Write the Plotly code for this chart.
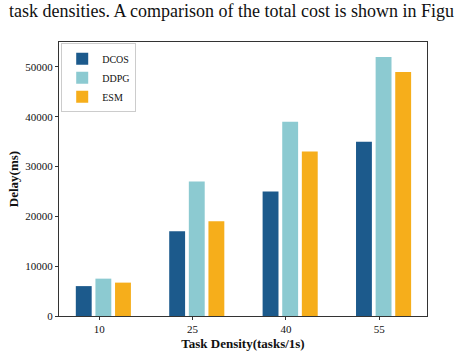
import plotly.graph_objects as go

categories = ["10", "25", "40", "55"]
dcos = [6000, 17000, 25000, 35000]
ddpg = [7500, 27000, 39000, 52000]
esm = [6700, 19000, 33000, 49000]
y_ticks = [0, 10000, 20000, 30000, 40000, 50000]

positions = list(range(len(categories)))
series = [
    ("DCOS", dcos, "#1c5a8c", -0.25),
    ("DDPG", ddpg, "#8ccad1", -0.04),
    ("ESM", esm, "#f6ae1b", 0.17),
]

fig = go.Figure()
for name, vals, color, off in series:
    fig.add_trace(go.Bar(
        x=positions, y=vals, name=name, marker_color=color,
        marker_line_width=0, offset=off, width=0.17,
    ))

serif = "Liberation Serif"
fig.update_layout(
    width=474, height=355,
    margin=dict(l=59, r=47, t=42, b=39),
    paper_bgcolor="white", plot_bgcolor="white",
    barmode="overlay",
    font=dict(family=serif, color="#111111", size=11),
    showlegend=True,
    legend=dict(
        x=0.006, y=0.995, xanchor="left", yanchor="top",
        bgcolor="white", bordercolor="#cccccc", borderwidth=1,
        font=dict(family=serif, size=10, color="#111111"),
        itemwidth=30, tracegroupgap=0,
    ),
    xaxis=dict(
        range=[-0.43, 3.51], tickmode="array", tickvals=positions,
        ticktext=categories, ticks="outside", ticklen=3, tickcolor="#333",
        showgrid=False, zeroline=False, showline=True, linecolor="#333",
        linewidth=1.3, mirror=True, automargin=False,
        title=dict(text="<b>Task Density(tasks/1s)</b>", font=dict(family=serif, size=13), standoff=4),
    ),
    yaxis=dict(
        range=[0, 55000], tickmode="array", tickvals=y_ticks,
        ticktext=[str(v) for v in y_ticks],
        ticks="outside", ticklen=3, tickcolor="#333",
        showgrid=False, zeroline=False, showline=True, linecolor="#333",
        linewidth=1.3, mirror=True, automargin=False,
        title=dict(text="<b>Delay(ms)</b>", font=dict(family=serif, size=13), standoff=3),
    ),
)

fig.add_annotation(
    text="task densities. A comparison of the total cost is shown in Figu",
    xref="paper", yref="paper", x=-0.141, y=1.0, xanchor="left", yanchor="bottom",
    yshift=19, showarrow=False, align="left",
    font=dict(family=serif, size=18, color="#111111"),
)

fig.write_html(
    "out.html",
    config={"displayModeBar": False},
    post_script="document.body.style.margin='0';document.body.style.overflow='hidden';",
)
